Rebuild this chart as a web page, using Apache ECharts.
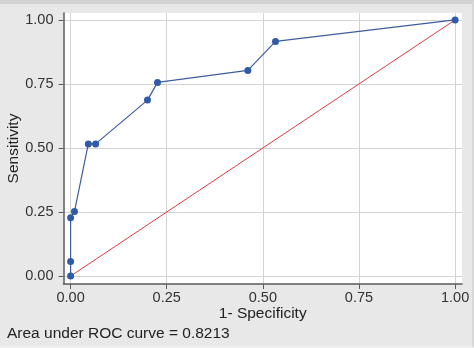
<!DOCTYPE html>
<html>
<head>
<meta charset="utf-8">
<script src="https://cdn.jsdelivr.net/npm/echarts@6/dist/echarts.min.js"></script>
<style>
html,body{margin:0;padding:0;background:#e8e8e9;}
#wrap{position:absolute;left:0;top:0;width:474px;height:348px;box-sizing:border-box;border-top:4px solid #d2d2d3;border-right:2px solid #d8d8d9;border-bottom:2px solid #f0f0f0;}
#c{position:absolute;left:0;top:0;width:474px;height:348px;}
</style>
</head>
<body>
<div id="wrap"></div>
<div id="c"></div>
<script>
const specificity1 = [0, 0, 0, 0.010, 0.046, 0.065, 0.200, 0.226, 0.461, 0.533, 1.0];
const sensitivity = [0, 0.057, 0.228, 0.252, 0.516, 0.516, 0.687, 0.756, 0.803, 0.916, 1.0];
const refX = [0, 1];
const refY = [0, 1];
const tickValues = [0, 0.25, 0.5, 0.75, 1];
const tickLabels = ['0.00', '0.25', '0.50', '0.75', '1.00'];
const aucText = 'Area under ROC curve = 0.8213';

const chart = echarts.init(document.getElementById('c'), null, {renderer: 'canvas'});
const fmt = v => tickLabels[tickValues.findIndex(t => Math.abs(t - v) < 1e-9)] || '';
const axisCommon = {
  type: 'value',
  axisLine: {show: true, onZero: false, lineStyle: {color: '#5a5a5a', width: 1.5}},
  axisTick: {show: true, inside: false, length: 5, customValues: tickValues, lineStyle: {color: '#5a5a5a', width: 1}},
  axisLabel: {customValues: tickValues, formatter: fmt, color: '#333', fontFamily: 'Liberation Sans', fontSize: 14.5},
  splitLine: {show: true, lineStyle: {color: '#d3d3d3', width: 1}},
  nameLocation: 'middle',
  nameMoveOverlap: false,
  nameTextStyle: {color: '#222', fontFamily: 'Liberation Sans', fontSize: 15.5}
};
chart.setOption({
  backgroundColor: 'transparent',
  animation: false,
  grid: {left: 63.5, right: 12, top: 13, bottom: 64, containLabel: false, outerBoundsMode: 'none',
         backgroundColor: '#fff', show: true, borderWidth: 0},
  xAxis: Object.assign({}, axisCommon, {
    min: -0.0185, max: 1.018,
    name: '1- Specificity', nameGap: 22,
    axisLabel: Object.assign({}, axisCommon.axisLabel, {margin: 6})
  }),
  yAxis: Object.assign({}, axisCommon, {
    min: -0.031, max: 1.027,
    name: 'Sensitivity', nameGap: 42,
    axisLabel: Object.assign({}, axisCommon.axisLabel, {margin: 10})
  }),
  graphic: [{
    type: 'text', left: 7, top: 326,
    style: {text: aucText, fill: '#222', font: '15.5px "Liberation Sans"'}
  }],
  series: [
    {
      type: 'line', data: refX.map((x, i) => [x, refY[i]]),
      symbol: 'none', lineStyle: {color: '#e0393b', width: 1}, z: 2
    },
    {
      type: 'line', data: specificity1.map((x, i) => [x, sensitivity[i]]),
      symbol: 'circle', symbolSize: 7,
      itemStyle: {color: '#2f5aa8'},
      lineStyle: {color: '#3d5d9e', width: 1.2}, z: 3
    }
  ]
});
</script>
</body>
</html>
